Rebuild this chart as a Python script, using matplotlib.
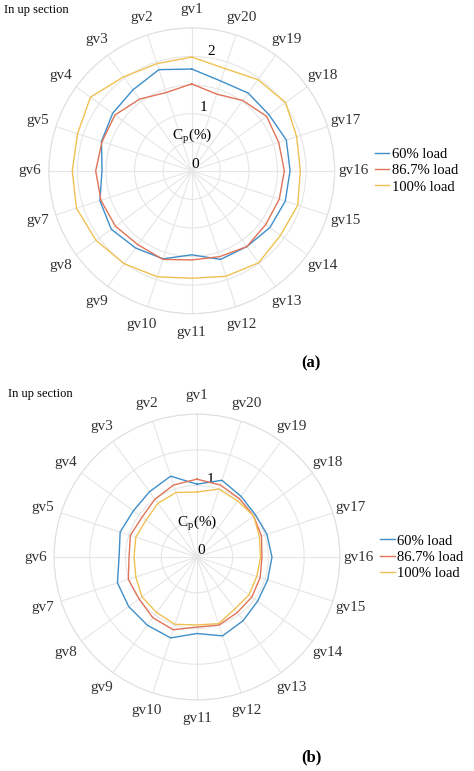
import numpy as np
import matplotlib.pyplot as plt

plt.rcParams['font.family'] = ['Liberation Serif', 'DejaVu Serif']

labels = ['gv%d' % i for i in range(1, 21)]
series = ['60% load', '86.7% load', '100% load']
colors = ['#3d8ec9', '#e07358', '#efc152']

# panel (a)
a_60 = [1.78, 1.86, 1.75, 1.71, 1.66, 1.57, 1.69, 1.74, 1.67, 1.62,
        1.47, 1.63, 1.64, 1.69, 1.72, 1.72, 1.74, 1.67, 1.68, 1.65]
a_87 = [1.52, 1.44, 1.55, 1.66, 1.65, 1.68, 1.67, 1.65, 1.60, 1.63,
        1.56, 1.58, 1.64, 1.60, 1.61, 1.62, 1.60, 1.62, 1.52, 1.41]
a_100 = [1.99, 1.97, 2.03, 2.19, 2.10, 2.09, 2.12, 2.07, 2.01, 1.95,
         1.88, 1.94, 1.99, 1.92, 1.95, 1.90, 1.93, 2.03, 1.97, 1.88]

# panel (b)
b_60 = [1.02, 1.19, 1.13, 1.10, 1.13, 1.09, 1.17, 1.18, 1.18, 1.19,
        1.07, 1.16, 1.10, 1.05, 1.04, 1.05, 1.03, 1.01, 1.05, 1.13]
b_87 = [1.09, 1.06, 1.00, 0.95, 0.98, 0.95, 1.01, 1.00, 1.05, 1.07,
        0.98, 1.00, 0.96, 0.95, 0.93, 0.91, 0.95, 0.98, 1.01, 1.06]
b_100 = [0.91, 0.95, 0.93, 0.88, 0.90, 0.88, 0.90, 0.95, 0.96, 0.99,
         0.95, 0.98, 0.90, 0.90, 0.88, 0.89, 0.92, 0.98, 0.97, 1.00]

theta = np.linspace(0, 2 * np.pi, len(labels), endpoint=False)

fig = plt.figure(figsize=(4.74, 7.71), dpi=100)


def radar(rect, data, rmax, tag, tagpos):
    ax = fig.add_axes(rect, projection='polar')
    ax.set_theta_offset(np.pi / 2)
    ax.set_theta_direction(1)
    for vals, name, c in zip(data, series, colors):
        v = list(vals) + [vals[0]]
        t = list(theta) + [theta[0]]
        ax.plot(t, v, color=c, lw=1.0, label=name)
    ax.set_ylim(0, rmax)
    ticks = np.arange(0, rmax + 0.01, 0.5)
    ax.set_yticks(ticks)
    ax.set_yticklabels(['%d' % t if t == int(t) and t < rmax else '' for t in ticks])
    ax.set_rlabel_position(-8)
    ax.set_xticks(theta)
    ax.set_xticklabels(labels)
    ax.tick_params(axis='x', labelsize=11, pad=3, colors='#333333')
    ax.tick_params(axis='y', labelsize=11)
    ax.grid(color='#e6e6e6', lw=0.8)
    ax.spines['polar'].set_color('#e0e0e0')
    ax.spines['polar'].set_linewidth(0.8)
    ax.text(0.5, 0.62, r'C$_\mathregular{p}$(%)', transform=ax.transAxes,
            ha='center', va='center', fontsize=11)
    ax.legend(loc='center left', bbox_to_anchor=(1.12, 0.5), frameon=False,
              fontsize=10.5, handlelength=1.0, handletextpad=0.2,
              labelspacing=0.2, borderaxespad=0)
    fig.text(tagpos[0], tagpos[1], tag, fontsize=9, ha='left', va='top')
    return ax


radar([0.103, 0.593, 0.603, 0.371], [a_60, a_87, a_100], 2.5,
      'In up section', (0.008, 0.995))
radar([0.114, 0.092, 0.603, 0.371], [b_60, b_87, b_100], 2.0,
      'In up section', (0.017, 0.497))

fig.text(0.655, 0.529, '(a)', fontsize=12, ha='center', va='center',
         fontweight='bold')
fig.text(0.658, 0.018, '(b)', fontsize=12, ha='center', va='center',
         fontweight='bold')

fig.savefig('out.png', dpi=100)
